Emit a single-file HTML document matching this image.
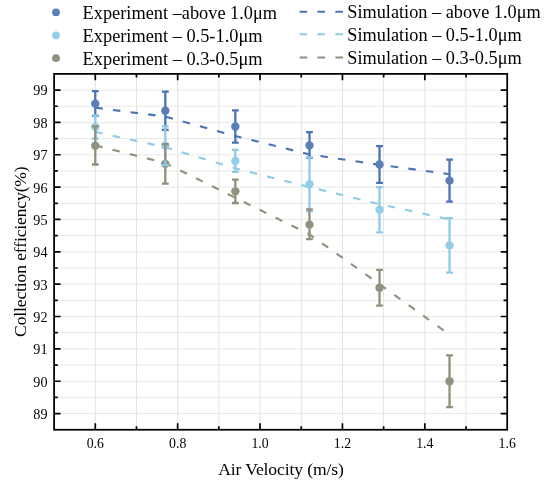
<!DOCTYPE html>
<html><head><meta charset="utf-8"><title>Collection efficiency vs Air Velocity</title>
<style>html,body{margin:0;padding:0;background:#fff}svg{display:block}</style></head>
<body>
<svg width="550" height="485" viewBox="0 0 550 485">
<rect width="550" height="485" fill="#fff"/>
<path d="M95.29 73.9 V429.75 M136.48 73.9 V429.75 M177.67 73.9 V429.75 M218.86 73.9 V429.75 M260.05 73.9 V429.75 M301.25 73.9 V429.75 M342.44 73.9 V429.75 M383.63 73.9 V429.75 M424.82 73.9 V429.75 M466.01 73.9 V429.75" stroke="#d9d9d9" stroke-width="0.75" fill="none"/>
<path d="M54.1 413.57 H507.2 M54.1 397.40 H507.2 M54.1 381.23 H507.2 M54.1 365.05 H507.2 M54.1 348.88 H507.2 M54.1 332.70 H507.2 M54.1 316.52 H507.2 M54.1 300.35 H507.2 M54.1 284.17 H507.2 M54.1 268.00 H507.2 M54.1 251.82 H507.2 M54.1 235.65 H507.2 M54.1 219.47 H507.2 M54.1 203.30 H507.2 M54.1 187.12 H507.2 M54.1 170.95 H507.2 M54.1 154.77 H507.2 M54.1 138.60 H507.2 M54.1 122.42 H507.2 M54.1 106.25 H507.2 M54.1 90.07 H507.2" stroke="#e0e0e0" stroke-width="0.75" fill="none"/>
<polyline points="95.29,107.71 165.32,116.60 235.34,136.01 309.48,154.45 379.51,164.80 449.53,174.18" fill="none" stroke="#4a74b6" stroke-width="2.1" stroke-dasharray="7.5 10.25"/>
<polyline points="95.29,131.97 165.32,147.21 235.34,168.36 309.48,187.12 379.51,204.11 449.53,219.47" fill="none" stroke="#8ecbe7" stroke-width="2.1" stroke-dasharray="7.5 10.25"/>
<polyline points="95.29,145.39 165.32,163.02 235.34,197.80 309.48,234.36 379.51,284.17 449.53,334.64" fill="none" stroke="#8f917c" stroke-width="2.1" stroke-dasharray="7.5 10.25"/>
<circle cx="95.29" cy="103.66" r="4.2" fill="#5b7eb6"/>
<circle cx="165.32" cy="110.78" r="4.2" fill="#5b7eb6"/>
<circle cx="235.34" cy="126.47" r="4.2" fill="#5b7eb6"/>
<circle cx="309.48" cy="145.39" r="4.2" fill="#5b7eb6"/>
<circle cx="379.51" cy="164.48" r="4.2" fill="#5b7eb6"/>
<circle cx="449.53" cy="180.65" r="4.2" fill="#5b7eb6"/>
<circle cx="95.29" cy="126.95" r="4.2" fill="#96cde6"/>
<circle cx="165.32" cy="145.72" r="4.2" fill="#96cde6"/>
<circle cx="235.34" cy="160.92" r="4.2" fill="#96cde6"/>
<circle cx="309.48" cy="184.21" r="4.2" fill="#96cde6"/>
<circle cx="379.51" cy="209.77" r="4.2" fill="#96cde6"/>
<circle cx="449.53" cy="245.35" r="4.2" fill="#96cde6"/>
<circle cx="95.29" cy="145.72" r="4.2" fill="#90927f"/>
<circle cx="165.32" cy="163.83" r="4.2" fill="#90927f"/>
<circle cx="235.34" cy="191.33" r="4.2" fill="#90927f"/>
<circle cx="309.48" cy="224.65" r="4.2" fill="#90927f"/>
<circle cx="379.51" cy="287.73" r="4.2" fill="#90927f"/>
<circle cx="449.53" cy="381.23" r="4.2" fill="#90927f"/>
<path d="M95.29 91.05 V100.06 M95.29 107.26 V115.95 M91.89 91.05 h6.8 M91.89 115.95 h6.8 M165.32 91.69 V107.18 M165.32 114.38 V129.87 M161.92 91.69 h6.8 M161.92 129.87 h6.8 M235.34 110.29 V122.87 M235.34 130.07 V142.64 M231.94 110.29 h6.8 M231.94 142.64 h6.8 M309.48 132.13 V141.79 M309.48 148.99 V157.85 M306.08 132.13 h6.8 M306.08 157.85 h6.8 M379.51 146.04 V160.88 M379.51 168.08 V182.92 M376.11 146.04 h6.8 M376.11 182.92 h6.8 M449.53 159.63 V177.05 M449.53 184.25 V201.68 M446.13 159.63 h6.8 M446.13 201.68 h6.8" stroke="#4a74b6" stroke-width="2.3" fill="none"/>
<path d="M95.29 115.31 V123.35 M95.29 130.55 V138.60 M91.89 115.31 h6.8 M91.89 138.60 h6.8 M165.32 126.31 V142.12 M165.32 149.32 V165.13 M161.92 126.31 h6.8 M161.92 165.13 h6.8 M235.34 149.92 V157.32 M235.34 164.52 V171.92 M231.94 149.92 h6.8 M231.94 171.92 h6.8 M309.48 157.36 V180.61 M309.48 187.81 V211.06 M306.08 157.36 h6.8 M306.08 211.06 h6.8 M379.51 187.12 V206.17 M379.51 213.37 V232.42 M376.11 187.12 h6.8 M376.11 232.42 h6.8 M449.53 218.18 V241.75 M449.53 248.95 V272.53 M446.13 218.18 h6.8 M446.13 272.53 h6.8" stroke="#8ecbe7" stroke-width="2.3" fill="none"/>
<path d="M95.29 126.31 V142.12 M95.29 149.32 V164.48 M91.89 126.31 h6.8 M91.89 164.48 h6.8 M165.32 144.10 V160.23 M165.32 167.43 V183.57 M161.92 144.10 h6.8 M161.92 183.57 h6.8 M235.34 179.68 V187.73 M235.34 194.93 V202.98 M231.94 179.68 h6.8 M231.94 202.98 h6.8 M309.48 209.45 V221.05 M309.48 228.25 V239.21 M306.08 209.45 h6.8 M306.08 239.21 h6.8 M379.51 269.94 V284.13 M379.51 291.33 V305.53 M376.11 269.94 h6.8 M376.11 305.53 h6.8 M449.53 355.35 V377.63 M449.53 384.82 V407.10 M446.13 355.35 h6.8 M446.13 407.10 h6.8" stroke="#8f917c" stroke-width="2.3" fill="none"/>
<rect x="54.1" y="73.9" width="453.09999999999997" height="355.85" fill="none" stroke="#000" stroke-width="1.75"/>
<path d="M95.29 429.75 v-6.4 M95.29 73.9 v6.4 M136.48 429.75 v-3.6 M136.48 73.9 v3.6 M177.67 429.75 v-6.4 M177.67 73.9 v6.4 M218.86 429.75 v-3.6 M218.86 73.9 v3.6 M260.05 429.75 v-6.4 M260.05 73.9 v6.4 M301.25 429.75 v-3.6 M301.25 73.9 v3.6 M342.44 429.75 v-6.4 M342.44 73.9 v6.4 M383.63 429.75 v-3.6 M383.63 73.9 v3.6 M424.82 429.75 v-6.4 M424.82 73.9 v6.4 M466.01 429.75 v-3.6 M466.01 73.9 v3.6 M54.1 413.57 h6.5 M507.2 413.57 h-6.5 M54.1 397.40 h3.7 M507.2 397.40 h-3.7 M54.1 381.23 h6.5 M507.2 381.23 h-6.5 M54.1 365.05 h3.7 M507.2 365.05 h-3.7 M54.1 348.88 h6.5 M507.2 348.88 h-6.5 M54.1 332.70 h3.7 M507.2 332.70 h-3.7 M54.1 316.52 h6.5 M507.2 316.52 h-6.5 M54.1 300.35 h3.7 M507.2 300.35 h-3.7 M54.1 284.17 h6.5 M507.2 284.17 h-6.5 M54.1 268.00 h3.7 M507.2 268.00 h-3.7 M54.1 251.82 h6.5 M507.2 251.82 h-6.5 M54.1 235.65 h3.7 M507.2 235.65 h-3.7 M54.1 219.47 h6.5 M507.2 219.47 h-6.5 M54.1 203.30 h3.7 M507.2 203.30 h-3.7 M54.1 187.12 h6.5 M507.2 187.12 h-6.5 M54.1 170.95 h3.7 M507.2 170.95 h-3.7 M54.1 154.77 h6.5 M507.2 154.77 h-6.5 M54.1 138.60 h3.7 M507.2 138.60 h-3.7 M54.1 122.42 h6.5 M507.2 122.42 h-6.5 M54.1 106.25 h3.7 M507.2 106.25 h-3.7 M54.1 90.07 h6.5 M507.2 90.07 h-6.5" stroke="#000" stroke-width="1.7" fill="none"/>
<g font-family="'Liberation Serif', serif" font-size="14.2" fill="#000">
<text x="95.29" y="447.8" text-anchor="middle" font-size="13.8">0.6</text>
<text x="177.67" y="447.8" text-anchor="middle" font-size="13.8">0.8</text>
<text x="260.05" y="447.8" text-anchor="middle" font-size="13.8">1.0</text>
<text x="342.44" y="447.8" text-anchor="middle" font-size="13.8">1.2</text>
<text x="424.82" y="447.8" text-anchor="middle" font-size="13.8">1.4</text>
<text x="507.20" y="447.8" text-anchor="middle" font-size="13.8">1.6</text>
<text x="47.5" y="418.97" text-anchor="end">89</text>
<text x="47.5" y="386.62" text-anchor="end">90</text>
<text x="47.5" y="354.27" text-anchor="end">91</text>
<text x="47.5" y="321.92" text-anchor="end">92</text>
<text x="47.5" y="289.57" text-anchor="end">93</text>
<text x="47.5" y="257.22" text-anchor="end">94</text>
<text x="47.5" y="224.87" text-anchor="end">95</text>
<text x="47.5" y="192.53" text-anchor="end">96</text>
<text x="47.5" y="160.17" text-anchor="end">97</text>
<text x="47.5" y="127.82" text-anchor="end">98</text>
<text x="47.5" y="95.47" text-anchor="end">99</text>
</g>
<g font-family="'Liberation Serif', serif" font-size="17.6" fill="#000">
<text x="218.2" y="474.7" textLength="125.6" lengthAdjust="spacing">Air Velocity (m/s)</text>
<text transform="translate(25.6 336.9) rotate(-90)" textLength="170.6" lengthAdjust="spacing">Collection efficiency(%)</text>
</g>
<g font-family="'Liberation Serif', serif" font-size="18.5" fill="#000">
<circle cx="56" cy="12.4" r="3.85" fill="#5b7eb6"/>
<text x="82.6" y="18.8" textLength="194.5" lengthAdjust="spacingAndGlyphs">Experiment –above 1.0μm</text>
<path d="M299.6 11.8 H343" stroke="#4a74b6" stroke-width="2" stroke-dasharray="7.6 10.3" fill="none"/>
<text x="347.3" y="17.6" textLength="193.4" lengthAdjust="spacingAndGlyphs">Simulation – above 1.0μm</text>
<circle cx="56" cy="35.4" r="3.85" fill="#96cde6"/>
<text x="82.6" y="41.8" textLength="179.9" lengthAdjust="spacingAndGlyphs">Experiment – 0.5-1.0μm</text>
<path d="M299.6 34.3 H343" stroke="#8ecbe7" stroke-width="2" stroke-dasharray="7.6 10.3" fill="none"/>
<text x="347.3" y="40.5" textLength="174.4" lengthAdjust="spacingAndGlyphs">Simulation – 0.5-1.0μm</text>
<circle cx="56" cy="58.2" r="3.85" fill="#90927f"/>
<text x="82.6" y="64.5" textLength="179.9" lengthAdjust="spacingAndGlyphs">Experiment – 0.3-0.5μm</text>
<path d="M299.6 57.6 H343" stroke="#8f917c" stroke-width="2" stroke-dasharray="7.6 10.3" fill="none"/>
<text x="347.3" y="63.5" textLength="174.4" lengthAdjust="spacingAndGlyphs">Simulation – 0.3-0.5μm</text>
</g>
</svg>
</body></html>
